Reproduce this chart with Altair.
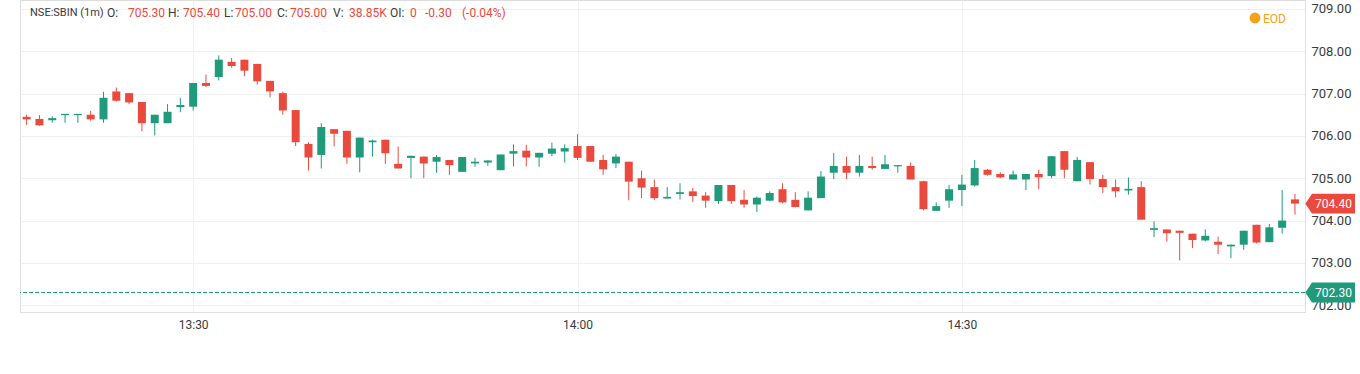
import altair as alt
import pandas as pd

# ---------------- data ----------------
opens = [706.45, 706.40, 706.37, 706.49, 706.49, 706.50, 706.39, 707.05, 707.01, 706.80,
         706.30, 706.30, 706.68, 706.69, 707.25, 707.39, 707.75, 707.80, 707.70, 707.30,
         707.01, 706.61, 705.81, 705.55, 706.16, 706.12, 705.49, 705.85, 705.91, 705.34,
         705.48, 705.51, 705.39, 705.43, 705.15, 705.35, 705.37, 705.19, 705.58, 705.65,
         705.49, 705.58, 705.63, 705.76, 705.76, 705.43, 705.35, 705.39, 705.00, 704.79,
         704.52, 704.63, 704.69, 704.59, 704.46, 704.84, 704.49, 704.38, 704.47, 704.74,
         704.49, 704.24, 704.53, 705.13, 705.29, 705.13, 705.29, 705.22, 705.28, 705.29,
         704.93, 704.23, 704.47, 704.72, 704.83, 705.20, 705.10, 704.97, 704.97, 705.10,
         705.05, 705.64, 704.93, 705.38, 704.98, 704.79, 704.71, 704.79, 703.78, 703.79,
         703.76, 703.69, 703.53, 703.50, 703.39, 703.43, 703.90, 703.49, 703.83, 704.50]
highs = [706.50, 706.49, 706.46, 706.52, 706.52, 706.59, 707.04, 707.14, 707.01, 706.80,
         706.50, 706.75, 706.90, 707.25, 707.45, 707.90, 707.84, 707.80, 707.70, 707.30,
         707.05, 706.61, 705.85, 706.30, 706.16, 706.12, 705.96, 705.91, 705.91, 705.75,
         705.53, 705.51, 705.55, 705.43, 705.50, 705.48, 705.42, 705.56, 705.80, 705.79,
         705.60, 705.84, 705.80, 706.04, 705.76, 705.55, 705.57, 705.39, 705.18, 704.97,
         704.79, 704.88, 704.77, 704.67, 704.84, 704.84, 704.72, 704.57, 704.69, 704.88,
         704.67, 704.69, 705.17, 705.60, 705.51, 705.55, 705.51, 705.55, 705.31, 705.37,
         704.94, 704.43, 704.84, 705.08, 705.43, 705.22, 705.14, 705.18, 705.10, 705.20,
         705.52, 705.64, 705.50, 705.38, 705.08, 704.97, 705.02, 704.93, 703.98, 703.79,
         703.76, 703.69, 703.79, 703.62, 703.43, 703.76, 703.90, 703.92, 704.72, 704.63]
lows = [706.26, 706.24, 706.31, 706.31, 706.31, 706.36, 706.31, 706.81, 706.75, 706.11,
        706.01, 706.30, 706.56, 706.60, 707.15, 707.31, 707.61, 707.41, 707.21, 706.91,
        706.50, 705.76, 705.18, 705.23, 705.75, 705.34, 705.14, 705.51, 705.34, 705.23,
        705.00, 705.00, 705.13, 705.08, 705.15, 705.27, 705.29, 705.19, 705.28, 705.28,
        705.27, 705.52, 705.37, 705.43, 705.39, 705.08, 705.24, 704.48, 704.53, 704.49,
        704.52, 704.50, 704.44, 704.30, 704.39, 704.39, 704.30, 704.20, 704.46, 704.41,
        704.31, 704.24, 704.53, 704.98, 704.98, 705.04, 705.20, 705.22, 705.13, 704.97,
        704.24, 704.23, 704.30, 704.34, 704.80, 705.06, 705.00, 704.97, 704.72, 704.74,
        705.00, 705.00, 704.93, 704.85, 704.65, 704.55, 704.61, 704.02, 703.61, 703.50,
        703.06, 703.35, 703.51, 703.21, 703.11, 703.31, 703.46, 703.49, 703.69, 704.14]
closes = [706.39, 706.25, 706.42, 706.52, 706.52, 706.39, 706.90, 706.83, 706.79, 706.30,
          706.50, 706.57, 706.73, 707.25, 707.18, 707.80, 707.65, 707.54, 707.29, 707.05,
          706.60, 705.85, 705.49, 706.21, 706.05, 705.49, 705.96, 705.89, 705.59, 705.23,
          705.53, 705.35, 705.50, 705.31, 705.50, 705.39, 705.42, 705.56, 705.64, 705.49,
          705.60, 705.70, 705.71, 705.48, 705.39, 705.21, 705.51, 704.92, 704.78, 704.53,
          704.56, 704.67, 704.58, 704.47, 704.84, 704.46, 704.38, 704.54, 704.65, 704.43,
          704.32, 704.54, 705.04, 705.29, 705.13, 705.29, 705.24, 705.33, 705.31, 704.97,
          704.27, 704.34, 704.74, 704.85, 705.24, 705.08, 705.02, 705.09, 705.10, 705.02,
          705.52, 705.20, 705.43, 704.98, 704.79, 704.69, 704.75, 704.02, 703.82, 703.70,
          703.71, 703.54, 703.64, 703.43, 703.43, 703.76, 703.48, 703.84, 704.00, 704.40]
start_time = "2024-01-01 13:17"          # first 1-minute bar
y_ticks = [702, 703, 704, 705, 706, 707, 708, 709]
last_price = [704.40]
ref_price = [702.30]

header_labels = ["O:", "H:", "L:", "C:", "V:", "OI:"]
header_values = ["705.30", "705.40", "705.00", "705.00", "38.85K", "0"]
header_change = ["-0.30", "(-0.04%)"]
symbol_text = "NSE:SBIN (1m)"
eod_text = "EOD"

# ---------------- styles ----------------
GREEN = "#1F9A7B"
RED = "#EA4A3E"
GRID = "#f0f0f0"
AXIS_LINE = "#e0e0e0"
TEXT = "#3a3a3a"
ORANGE = "#F7A11A"
FONT = "Roboto"

times = pd.date_range(start_time, periods=len(opens), freq="min")
df = pd.DataFrame({"t": times, "open": opens, "high": highs, "low": lows, "close": closes})
df["dir"] = ["up" if c >= o else "down" for o, c in zip(opens, closes)]
# keep doji bodies visible (1 px)
df["body_top"] = [max(o, c) + (0.012 if abs(o - c) < 0.02 else 0) for o, c in zip(opens, closes)]
df["body_bot"] = [min(o, c) for o, c in zip(opens, closes)]

x_scale = alt.Scale(domain=[alt.DateTime(year=2024, month=1, date=1, hours=13, minutes=16, seconds=29),
                            alt.DateTime(year=2024, month=1, date=1, hours=14, minutes=56, seconds=47)])
y_scale = alt.Scale(domain=[701.84, 709.21], nice=False, zero=False)
color = alt.Color("dir:N", scale=alt.Scale(domain=["up", "down"], range=[GREEN, RED]), legend=None)

x_axis = alt.Axis(values=[alt.DateTime(year=2024, month=1, date=1, hours=13, minutes=30),
                          alt.DateTime(year=2024, month=1, date=1, hours=14, minutes=0),
                          alt.DateTime(year=2024, month=1, date=1, hours=14, minutes=30)],
                  format="%H:%M", title=None, ticks=False, labelPadding=7,
                  labelFontSize=12, labelColor=TEXT, domainColor=AXIS_LINE,
                  grid=True, gridColor=GRID, labelFont=FONT)
y_axis = alt.Axis(orient="right", values=y_ticks, format=".2f", title=None, ticks=False,
                  labelPadding=6, labelFontSize=13, labelColor=TEXT, domainColor=AXIS_LINE,
                  grid=True, gridColor=GRID, labelFont=FONT, labelOverlap=False)

base = alt.Chart(df)

wicks = base.mark_rule(strokeWidth=1).encode(
    x=alt.X("t:T", scale=x_scale, axis=x_axis),
    y=alt.Y("low:Q", scale=y_scale, axis=y_axis),
    y2="high:Q",
    color=color,
)
bodies = base.mark_rule(strokeWidth=8).encode(
    x="t:T",
    y="body_bot:Q",
    y2="body_top:Q",
    color=color,
)

ref_df = pd.DataFrame({"p": ref_price, "label": [f"{v:.2f}" for v in ref_price]})
last_df = pd.DataFrame({"p": last_price, "label": [f"{v:.2f}" for v in last_price]})

ref_line = alt.Chart(ref_df).mark_rule(strokeWidth=1, strokeDash=[4, 2], color=GREEN).encode(y="p:Q")

TAG = "M -1.31 0 L -1 -0.465 L 1 -0.465 L 1 0.465 L -1 0.465 Z"

def price_tag(d, col):
    box = alt.Chart(d).mark_point(shape=TAG, size=1849, filled=True, opacity=1,
                                  color=col, strokeWidth=0).encode(
        x=alt.value(1313.5), y="p:Q")
    txt = alt.Chart(d).mark_text(color="white", fontSize=12, font=FONT, align="center",
                                 baseline="middle").encode(
        x=alt.value(1313.5), y="p:Q", text="label:N")
    return box + txt

# header text segments
def seg(text, x, col, size=12):
    return alt.Chart(pd.DataFrame({"s": [text]})).mark_text(
        align="left", baseline="middle", fontSize=size, font=FONT, color=col
    ).encode(x=alt.value(x), y=alt.value(12.5), text="s:N")

hdr_layers = [seg(symbol_text, 10, TEXT, 11)]
label_x = [87, 148, 204, 257, 313, 370]
value_x = [108, 163, 215, 270, 329, 390]
for lab, val, lx, vx in zip(header_labels, header_values, label_x, value_x):
    hdr_layers.append(seg(lab, lx, TEXT))
    hdr_layers.append(seg(val, vx, RED))
for ch, cx in zip(header_change, [405, 442]):
    hdr_layers.append(seg(ch, cx, RED))

eod_dot = alt.Chart(pd.DataFrame({"s": [eod_text]})).mark_point(
    shape="circle", size=120, filled=True, opacity=1, color=ORANGE
).encode(x=alt.value(1235), y=alt.value(18))
eod_txt = seg(eod_text, 1243, ORANGE).encode(y=alt.value(18.5))

chart = alt.layer(
    wicks, bodies, ref_line,
    price_tag(last_df, RED), price_tag(ref_df, GREEN),
    *hdr_layers, eod_dot, eod_txt,
).properties(
    width=1285, height=312,
    autosize=alt.AutoSizeParams(type="none"),
    padding={"left": 20, "top": 0, "right": 55, "bottom": 62},
    background="white",
).configure_view(stroke=None).configure(font=FONT)

chart.save("out.html", embed_options={"renderer": "svg", "actions": False})
